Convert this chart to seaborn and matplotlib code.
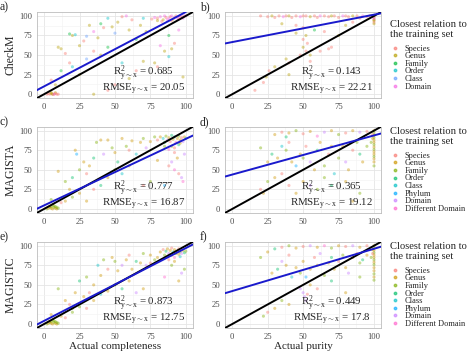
import numpy as np
import pandas as pd
import matplotlib
matplotlib.use("Agg")
import matplotlib.pyplot as plt
from matplotlib.lines import Line2D
from matplotlib.ticker import MultipleLocator
import seaborn as sns

# category codes
cat_names = {"S": "Species", "G": "Genus", "F": "Family", "O": "Order",
             "C": "Class", "P": "Phylum", "D": "Domain", "X": "Different Domain"}
cats_top = ["S", "G", "F", "O", "C", "D"]
cats_low = ["S", "G", "F", "O", "C", "P", "D", "X"]
pal_top = ["#F8766D", "#B79F00", "#00BA38", "#00BFC4", "#619CFF", "#F564E3"]
pal_low = ["#F8766D", "#CD9600", "#7CAE00", "#00BE67", "#00BFC4", "#00A9FF", "#C77CFF", "#FF61CC"]

# a) CheckM completeness
a_x = [2, 4, 5, 6, 7, 8, 9, 3, 6, 8,
       10, 5, 7, 76, 78, 80, 82, 84, 85, 86,
       88, 89, 90, 91, 92, 93, 94, 95, 96, 97,
       98, 99, 100, 80, 83, 87, 90, 95, 98, 10,
       12, 15, 18, 20, 22, 25, 28, 30, 32, 35,
       38, 40, 42, 45, 48, 50, 52, 55, 58, 60,
       62, 65, 68, 70, 72, 5, 8, 12, 18, 20,
       25, 30, 35, 40, 45, 78, 80, 82, 85, 88,
       90, 92, 95, 98, 88, 65, 70, 55, 60, 45,
       35, 50]
a_y = [0, 0, 1, 0, 0, 2, 0, 1, 0, 1,
       0, 2, 0, 96, 98, 97, 99, 95, 100, 98,
       97, 99, 100, 96, 98, 100, 97, 99, 100, 98,
       99, 100, 100, 94, 93, 95, 94, 96, 97, 60,
       58, 52, 77, 75, 76, 62, 68, 74, 88, 80,
       72, 90, 85, 97, 86, 78, 92, 99, 100, 82,
       95, 70, 88, 97, 80, 18, 12, 30, 40, 35,
       25, 45, 55, 50, 60, 40, 35, 62, 55, 48,
       58, 65, 82, 22, 75, 30, 42, 40, 20, 5,
       0, 12]
a_cat = ("SSGSSGSSGS" "SGDSDSDGDS" "DSDGDSDDSD" "SDDGSDSDDG" "GSFGOGSCGD"
         "GFSOGCGSDG" "SFGOGSGFSO" "GCSGFGSDGO" "GSDGFSGOGS" "GS")

# b) CheckM purity
b_x = [20, 25, 28, 30, 33, 36, 38, 40, 42, 45,
       48, 50, 52, 55, 58, 60, 62, 65, 68, 70,
       72, 75, 78, 80, 82, 85, 88, 90, 92, 95,
       97, 99, 100, 100, 100, 100, 100, 100, 100, 100,
       35, 45, 50, 52, 50, 53, 50, 52, 48, 55,
       62, 68, 45, 58, 65, 80, 85, 38, 40, 26,
       24, 22, 30, 16, 40, 55, 70, 75]
b_y = [100, 99, 100, 98, 100, 99, 100, 100, 98, 100,
       99, 100, 100, 99, 100, 98, 100, 100, 99, 100,
       100, 98, 100, 100, 99, 100, 100, 97, 100, 99,
       100, 100, 100, 98, 96, 94, 92, 90, 95, 97,
       90, 88, 85, 75, 70, 65, 60, 55, 50, 50,
       55, 58, 78, 82, 80, 88, 92, 45, 40, 30,
       22, 15, 35, 5, 25, 42, 60, 75]
b_cat = ("SSGSSDSGSS" "DSSGSSDSSG" "SSDSSGSSDS" "SSGGDGSGGD" "GSSGSSGSSG"
         "SSGFSGSGSS" "GSGSGSSG")

# c) MAGISTA completeness
c_x = [2, 3, 4, 5, 5, 6, 7, 7, 8, 8,
       9, 9, 10, 4, 6, 80, 82, 84, 85, 86,
       87, 88, 89, 90, 90, 91, 92, 92, 93, 94,
       95, 95, 96, 97, 98, 99, 100, 85, 88, 92,
       96, 90, 92, 95, 97, 98, 94, 99, 88, 85,
       80, 75, 70, 10, 15, 18, 20, 22, 23, 25,
       28, 30, 32, 35, 37, 40, 42, 45, 48, 50,
       52, 55, 58, 60, 62, 65, 68, 70, 72, 75,
       78, 30, 35, 40, 45, 50, 55, 60, 20, 15,
       12, 25, 5]
c_y = [0, 1, 2, 1, 3, 0, 2, 4, 1, 3,
       0, 2, 1, 3, 5, 88, 92, 90, 85, 93,
       88, 91, 86, 94, 80, 89, 92, 78, 85, 90,
       93, 82, 88, 91, 86, 92, 90, 80, 76, 72,
       84, 60, 50, 45, 40, 35, 65, 70, 55, 30,
       62, 35, 30, 48, 35, 25, 40, 75, 70, 50,
       60, 45, 55, 65, 85, 88, 70, 88, 78, 72,
       60, 90, 80, 75, 87, 70, 85, 90, 78, 86,
       92, 10, 25, 30, 40, 50, 45, 55, 15, 10,
       8, 20, 12]
c_cat = ("FGFGFGFFGF" "GFFGFSGCOF" "DGSOFGCSXG" "FOGSDGCFXS" "GDXSDXGDSP"
         "GFSGFGOGPF" "GSGOFGDGFG" "OGFSGCGFDG" "FGSOGFCGFG" "SGF")

# d) MAGISTA purity
d_x = [100, 100, 100, 100, 100, 100, 100, 100, 100, 100,
       100, 100, 100, 100, 100, 99, 99, 98, 30, 35,
       38, 40, 45, 50, 55, 60, 65, 70, 75, 80,
       85, 90, 95, 20, 25, 28, 32, 35, 38, 40,
       42, 45, 48, 50, 52, 55, 58, 60, 62, 65,
       68, 70, 72, 75, 78, 80, 82, 85, 88, 90,
       92, 95, 40, 50, 55, 60, 30, 35, 25, 22,
       20, 45, 65, 70, 80, 90, 85]
d_y = [100, 97, 94, 91, 88, 85, 82, 79, 76, 73,
       70, 67, 64, 60, 55, 95, 90, 85, 95, 98,
       92, 97, 100, 96, 99, 93, 98, 100, 95, 97,
       100, 98, 99, 78, 60, 70, 65, 80, 75, 85,
       60, 55, 70, 65, 80, 60, 50, 75, 85, 55,
       70, 80, 45, 65, 80, 60, 50, 75, 85, 70,
       60, 80, 30, 35, 30, 25, 40, 45, 35, 20,
       25, 20, 40, 30, 35, 20, 10]
d_cat = ("GFGFGGFGFG" "GFGGFSGFGS" "OGFSGXDGFS" "GDSFGOGCFS" "GPGFSDGOGF"
         "SGCFGDGSFO" "GFSGDFGSFG" "SGFOGFG")

# e) MAGISTIC completeness
e_x = [2, 3, 4, 5, 5, 6, 7, 7, 8, 8,
       9, 9, 10, 4, 6, 82, 84, 85, 86, 87,
       88, 89, 90, 90, 91, 92, 92, 93, 94, 95,
       95, 96, 97, 98, 99, 100, 88, 92, 96, 90,
       95, 97, 99, 85, 80, 75, 10, 15, 18, 20,
       22, 25, 28, 30, 32, 35, 38, 40, 42, 45,
       48, 50, 52, 55, 58, 60, 62, 65, 68, 70,
       72, 75, 78, 30, 35, 40, 45, 50, 55, 60,
       20, 15, 12, 25, 5, 65, 70]
e_y = [0, 1, 2, 1, 3, 0, 2, 4, 1, 3,
       0, 2, 1, 3, 5, 92, 95, 88, 93, 96,
       90, 94, 97, 88, 92, 95, 85, 90, 93, 96,
       89, 92, 90, 94, 91, 93, 82, 80, 86, 75,
       55, 65, 70, 60, 85, 78, 45, 30, 25, 20,
       40, 55, 35, 60, 40, 50, 75, 62, 82, 70,
       85, 80, 68, 75, 82, 88, 70, 80, 78, 90,
       75, 88, 82, 20, 30, 38, 42, 50, 45, 55,
       15, 8, 10, 22, 12, 40, 45]
e_cat = ("FGFGFGFFGF" "GFFGFGSFOG" "DGSFCGXFGS" "GFDGOFSGCF" "GDFXGSFGSF"
         "GOGFSGCGFS" "GFGDGSGOGF" "DGFSGCGFOG" "FSGFGDG")

# f) MAGISTIC purity
f_x = [100, 100, 100, 100, 100, 100, 100, 100, 100, 100,
       100, 100, 100, 100, 99, 99, 98, 25, 30, 35,
       40, 45, 50, 55, 60, 65, 70, 75, 80, 85,
       90, 95, 20, 28, 32, 35, 38, 40, 42, 45,
       48, 50, 52, 55, 58, 60, 62, 65, 68, 70,
       72, 75, 78, 80, 82, 85, 88, 90, 92, 95,
       50, 51, 52, 53, 48, 40, 35, 30, 25, 22,
       55, 60, 70, 80, 90]
f_y = [100, 97, 94, 91, 88, 85, 82, 79, 76, 72,
       68, 64, 60, 56, 95, 90, 85, 92, 96, 98,
       100, 97, 99, 100, 98, 100, 97, 100, 99, 100,
       98, 100, 85, 65, 70, 80, 75, 88, 60, 72,
       65, 80, 60, 70, 85, 75, 90, 62, 78, 85,
       70, 80, 88, 72, 65, 85, 90, 78, 82, 88,
       40, 35, 30, 38, 45, 25, 30, 20, 15, 10,
       50, 45, 55, 40, 60]
f_cat = ("GFGFGGFGFG" "GFGFGSFGOS" "FGSDGXFGSD" "GSFGODGSCG" "FGPGSGDFGO"
         "GSFGDGSFOG" "DDDSDGFGSF" "GSOGF")

# fitted lines (intercept, slope) and stats
fit_b0 = [10.0, 66.6, 4.5, 43.9, 4.0, 42.1]
fit_m = [0.95, 0.35, 0.85, 0.50, 0.93, 0.54]
r2_vals = ["0.685", "0.143", "0.777", "0.365", "0.873", "0.449"]
rmse_vals = ["20.05", "22.21", "16.87", "19.12", "12.75", "17.8"]
panel_tags = ["a)", "b)", "c)", "d)", "e)", "f)"]
row_names = ["CheckM", "MAGISTA", "MAGISTIC"]
col_names = ["Actual completeness", "Actual purity"]

sns.set_style("whitegrid")
plt.rcParams["font.family"] = ["Liberation Serif", "DejaVu Serif"]
plt.rcParams["mathtext.fontset"] = "custom"
plt.rcParams["mathtext.rm"] = "Liberation Serif"
plt.rcParams["mathtext.it"] = "Liberation Serif:italic"

fig = plt.figure(figsize=(4.74, 3.53), dpi=100)
lefts = [0.078, 0.475]
bottoms = [0.722, 0.397, 0.071]
w, h = 0.329, 0.244

xs = [a_x, b_x, c_x, d_x, e_x, f_x]
ys = [a_y, b_y, c_y, d_y, e_y, f_y]
cs = [a_cat, b_cat, c_cat, d_cat, e_cat, f_cat]

for i in range(6):
    row, col = divmod(i, 2)
    codes = cats_top if row == 0 else cats_low
    pal = dict(zip(codes, pal_top if row == 0 else pal_low))
    ax = fig.add_axes([lefts[col], bottoms[row], w, h])
    df = pd.DataFrame({"x": xs[i], "y": ys[i], "cat": list(cs[i])})
    sns.scatterplot(data=df, x="x", y="y", hue="cat", palette=pal, s=5,
                    alpha=0.42, linewidth=0, legend=False, ax=ax, zorder=3)
    ax.axline((0, 0), slope=1, color="black", lw=1.4, zorder=4)
    ax.axline((0, fit_b0[i]), slope=fit_m[i], color="#1a1acc", lw=1.4, zorder=5)
    ax.set_xlim(-5, 105)
    ax.set_ylim(-5, 105)
    ax.xaxis.set_major_locator(MultipleLocator(25))
    ax.yaxis.set_major_locator(MultipleLocator(25))
    ax.xaxis.set_minor_locator(MultipleLocator(12.5))
    ax.yaxis.set_minor_locator(MultipleLocator(12.5))
    ax.grid(which="major", color="#E5E5E5", lw=0.6)
    ax.grid(which="minor", color="#F2F2F2", lw=0.4)
    ax.tick_params(which="major", labelsize=6.2, colors="#4D4D4D", length=2,
                   width=0.5, pad=1.5)
    ax.tick_params(which="minor", length=0)
    for sp in ax.spines.values():
        sp.set_color("#BDBDBD")
        sp.set_linewidth(0.6)
    ax.text(70, 27, r"R$^{2}_{\mathrm{y\sim x}}$ = " + r2_vals[i], ha="center",
            va="center", fontsize=7.8, zorder=6)
    ax.text(70, 6, r"RMSE$_{\mathrm{y\sim x}}$ = " + rmse_vals[i], ha="center",
            va="center", fontsize=7.8, zorder=6)
    ax.set_xlabel(col_names[col] if row == 2 else "", fontsize=8, labelpad=1)
    ax.set_ylabel(row_names[row] if col == 0 else "", fontsize=8.5, labelpad=2)
    fig.text(0.0 if col == 0 else 0.421, bottoms[row] + h + 0.03, panel_tags[i],
             fontsize=8.5, va="top", ha="left")
    if col == 1:
        handles = [Line2D([], [], marker="o", ls="", ms=1.8, color=pal[c], alpha=0.6)
                   for c in codes]
        leg = ax.legend(handles, [cat_names[c] for c in codes],
                        title="Closest relation to\nthe training set", loc="center left",
                        bbox_to_anchor=(1.06, 0.5), frameon=False, fontsize=6.0,
                        title_fontsize=7.6, alignment="left", handlelength=1.2,
                        handletextpad=0.5, labelspacing=-0.05, borderpad=0,
                        borderaxespad=0)
        # gap between title and entries (negative labelspacing would overlap them)
        leg._legend_box.sep = 4

fig.savefig("out.png", dpi=100)
